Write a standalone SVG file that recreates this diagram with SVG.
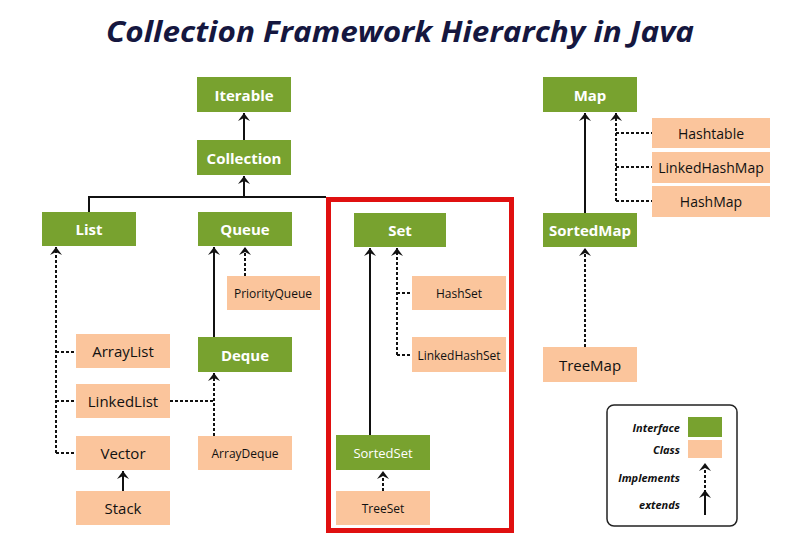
<svg xmlns="http://www.w3.org/2000/svg" width="800" height="560" viewBox="0 0 800 560">
<style>
.i{fill:#78a22f}
.c{fill:#fbc59c}
.ti{font-family:"Open Sans","Liberation Sans",sans-serif;font-weight:bold;font-size:15px;fill:#fff;text-anchor:middle;dominant-baseline:central}
.tc{font-family:"Open Sans","Liberation Sans",sans-serif;font-size:14px;fill:#111;text-anchor:middle;dominant-baseline:central}
.s{stroke:#111;stroke-width:2;fill:none}
.d{stroke:#111;stroke-width:2;fill:none;stroke-dasharray:3 2}
.lg{font-family:"Open Sans","Liberation Sans",sans-serif;font-style:italic;font-weight:bold;font-size:11px;fill:#111;text-anchor:end;dominant-baseline:central}
</style>
<defs>
<marker id="a" viewBox="0 0 10 12" refX="9" refY="6" markerWidth="10" markerHeight="12" markerUnits="userSpaceOnUse" orient="auto">
<path d="M1,0 L9,6 L1,12 L4,6 Z" fill="#111"/>
</marker>
</defs>
<rect width="800" height="560" fill="#fff"/>
<text x="400" y="42" font-family="Open Sans,Liberation Sans,sans-serif" font-weight="bold" font-style="italic" font-size="29" fill="#15173f" text-anchor="middle" textLength="588" lengthAdjust="spacingAndGlyphs">Collection Framework Hierarchy in Java</text>
<g id="connectors">
<path class="s" d="M244,140 V113" marker-end="url(#a)"/>
<path class="s" d="M89,212 V197 H326"/>
<path class="s" d="M244,197 V176" marker-end="url(#a)"/>
<path class="d" d="M56,453 H76 M56,401 H76 M56,352 H76"/>
<path class="d" d="M56,453 V247" marker-end="url(#a)"/>
<path class="s" d="M214,337 V247" marker-end="url(#a)"/>
<path class="d" d="M245,276 V247" marker-end="url(#a)"/>
<path class="d" d="M170,401 H214"/>
<path class="d" d="M214,436 V373" marker-end="url(#a)"/>
<path class="s" d="M123,491 V471" marker-end="url(#a)"/>
<path class="s" d="M370,435 V248" marker-end="url(#a)"/>
<path class="d" d="M397,355 H412 M397,293 H412"/>
<path class="d" d="M397,355 V248" marker-end="url(#a)"/>
<path class="d" d="M383,491 V471" marker-end="url(#a)"/>
<path class="s" d="M585,213 V113" marker-end="url(#a)"/>
<path class="d" d="M616,201 H652 M616,167 H652 M616,133 H652"/>
<path class="d" d="M616,201 V113" marker-end="url(#a)"/>
<path class="d" d="M585,347 V248" marker-end="url(#a)"/>
</g>
<rect x="328.5" y="199.5" width="183" height="331" fill="none" stroke="#e01010" stroke-width="5"/>
<g id="Iterable"><rect class="i" x="197" y="77" width="94" height="35"/><text class="ti" x="244" y="95">Iterable</text></g>
<g id="Collection"><rect class="i" x="197" y="140" width="94" height="35"/><text class="ti" x="244" y="158">Collection</text></g>
<g id="List"><rect class="i" x="42" y="212" width="94" height="34"/><text class="ti" x="89" y="229">List</text></g>
<g id="Queue"><rect class="i" x="198" y="212" width="94" height="34"/><text class="ti" x="245" y="229">Queue</text></g>
<g id="Set"><rect class="i" x="354" y="213" width="92" height="34"/><text class="ti" x="400" y="230">Set</text></g>
<g id="PriorityQueue"><rect class="c" x="227" y="276" width="93" height="34"/><text class="tc" x="273" y="293" style="font-size:12px">PriorityQueue</text></g>
<g id="ArrayList"><rect class="c" x="76" y="334" width="94" height="34"/><text class="tc" x="123" y="351" style="font-size:15px">ArrayList</text></g>
<g id="LinkedList"><rect class="c" x="76" y="384" width="94" height="34"/><text class="tc" x="123" y="401" style="font-size:15px">LinkedList</text></g>
<g id="Vector"><rect class="c" x="76" y="436" width="94" height="34"/><text class="tc" x="123" y="453" style="font-size:15px">Vector</text></g>
<g id="Stack"><rect class="c" x="76" y="491" width="94" height="34"/><text class="tc" x="123" y="508" style="font-size:15px">Stack</text></g>
<g id="Deque"><rect class="i" x="198" y="337" width="94" height="35"/><text class="ti" x="245" y="355">Deque</text></g>
<g id="ArrayDeque"><rect class="c" x="198" y="436" width="94" height="34"/><text class="tc" x="245" y="453" style="font-size:12px">ArrayDeque</text></g>
<g id="HashSet"><rect class="c" x="412" y="276" width="94" height="34"/><text class="tc" x="459" y="293" style="font-size:12px">HashSet</text></g>
<g id="LinkedHashSet"><rect class="c" x="412" y="337" width="94" height="35"/><text class="tc" x="459" y="355" style="font-size:12px">LinkedHashSet</text></g>
<g id="SortedSet"><rect class="i" x="336" y="435" width="94" height="35"/><text class="ti" x="383" y="453" style="font-size:13px;font-weight:normal">SortedSet</text></g>
<g id="TreeSet"><rect class="c" x="336" y="491" width="94" height="34"/><text class="tc" x="383" y="508" style="font-size:12px">TreeSet</text></g>
<g id="Map"><rect class="i" x="543" y="77" width="94" height="35"/><text class="ti" x="590" y="95">Map</text></g>
<g id="Hashtable"><rect class="c" x="652" y="118" width="118" height="30"/><text class="tc" x="711" y="133">Hashtable</text></g>
<g id="LinkedHashMap"><rect class="c" x="652" y="152" width="118" height="31"/><text class="tc" x="711" y="167.5">LinkedHashMap</text></g>
<g id="HashMap"><rect class="c" x="652" y="186" width="118" height="31"/><text class="tc" x="711" y="201.5">HashMap</text></g>
<g id="SortedMap"><rect class="i" x="543" y="213" width="94" height="34"/><text class="ti" x="590" y="230">SortedMap</text></g>
<g id="TreeMap"><rect class="c" x="543" y="347" width="94" height="35"/><text class="tc" x="590" y="365" style="font-size:15px">TreeMap</text></g>
<g id="legend">
<rect x="607" y="405" width="130" height="121" rx="7" fill="#fff" stroke="#222" stroke-width="1.5"/>
<text class="lg" x="680" y="427">Interface</text>
<rect class="i" x="688" y="417" width="34" height="20"/>
<text class="lg" x="680" y="449">Class</text>
<rect class="c" x="688" y="440" width="34" height="18"/>
<text class="lg" x="680" y="477">Implements</text>
<path class="d" d="M705,488 V463" marker-end="url(#a)"/>
<text class="lg" x="680" y="504">extends</text>
<path class="s" d="M705,515 V490" marker-end="url(#a)"/>
</g>
</svg>
